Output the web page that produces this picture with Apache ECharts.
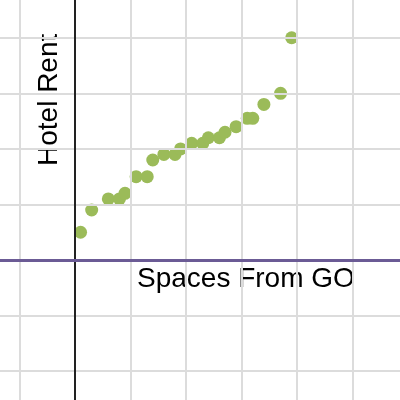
<!DOCTYPE html><html><head><meta charset="utf-8"><script src="https://cdn.jsdelivr.net/npm/echarts@6/dist/echarts.min.js"></script>
<style>html,body{margin:0;padding:0;background:#fff}#c{width:400px;height:400px}</style></head><body><div id="c"></div><script>
const spaces=[1,3,6,8,9,11,13,14,16,18,19,21,23,24,26,27,29,31,32,34,37,39];
const hotelRent=[250,450,550,550,600,750,750,900,950,950,1000,1050,1050,1100,1100,1150,1200,1275,1275,1400,1500,2000];
const gridXs=[-10,10,20,30,40,50];
const gridYs=[-1000,-500,500,1000,1500,2000];
const chart=echarts.init(document.getElementById('c'));
const gl={color:'#dcdcdc',width:2,type:'solid'};
chart.setOption({animation:false,
grid:{left:0,right:0,top:0,bottom:0},
xAxis:{type:'value',min:-13.5,max:58.5,show:false},
yAxis:{type:'value',min:-1260,max:2340,show:false},
graphic:[
{type:'text',left:137,top:265,style:{text:'Spaces From GO',fontFamily:'Liberation Sans',fontSize:28,fill:'#000'}},
{type:'text',rotation:Math.PI/2,x:35,y:166,style:{text:'Hotel Rent',fontFamily:'Liberation Sans',fontSize:28,fill:'#000'}}],
series:[
{type:'line',data:[],markLine:{silent:true,symbol:'none',label:{show:false},
 data:[...gridXs.map(v=>({xAxis:v,lineStyle:gl})),...gridYs.map(v=>({yAxis:v,lineStyle:gl})),
 {xAxis:0,lineStyle:{color:'#222',width:2,type:'solid'}},
 {yAxis:0,lineStyle:{color:'#6b5b95',width:3,type:'solid'}}]}},
{type:'scatter',symbolSize:13,itemStyle:{color:'#9bbb59',opacity:1},data:spaces.map((s,i)=>[s,hotelRent[i]])}
]});
</script></body></html>
